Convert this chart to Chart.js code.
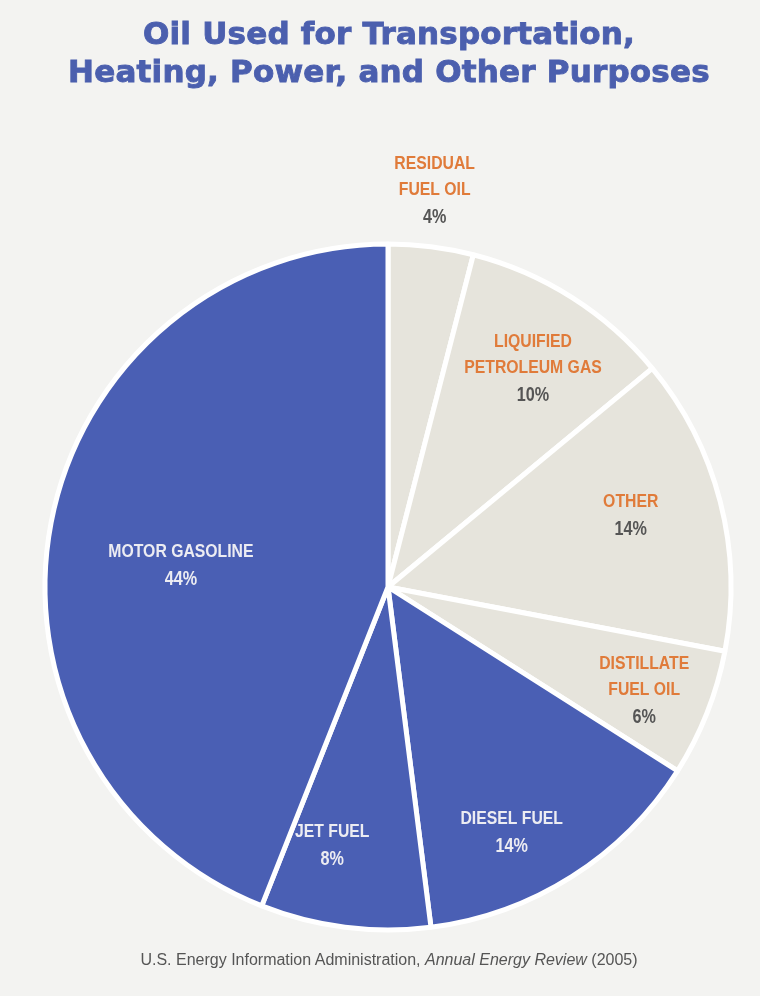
<!DOCTYPE html>
<html>
<head>
<meta charset="utf-8">
<script src="https://cdn.jsdelivr.net/npm/chart.js@4.4.1/dist/chart.umd.min.js"></script>
<style>
  html, body { margin: 0; padding: 0; background: #f3f3f1; }
  body { width: 760px; height: 996px; position: relative; overflow: hidden; }
  #wrap { position: absolute; left: 0; top: 0; width: 760px; height: 996px; }
  #title { position: absolute; left: 0; top: 14px; width: 778px; text-align: center;
    font-family: "DejaVu Sans", sans-serif; font-weight: bold; font-size: 31px; line-height: 38px;
    color: #4b5fae; -webkit-text-stroke: 0.9px #4b5fae; letter-spacing: 0.2px; z-index: 2; }
  #source { position: absolute; left: 0; top: 951px; width: 778px; text-align: center;
    font-family: "Liberation Sans", Arial, sans-serif; font-size: 16px; color: #555; z-index: 2; }
</style>
</head>
<body>
<div id="wrap"><canvas id="c"></canvas></div>
<div id="title">Oil Used for Transportation,<br>Heating, Power, and Other Purposes</div>
<div id="source">U.S. Energy Information Administration, <i>Annual Energy Review</i> (2005)</div>
<script>
// ---- data ----
const categories = ["RESIDUAL FUEL OIL", "LIQUIFIED PETROLEUM GAS", "OTHER", "DISTILLATE FUEL OIL", "DIESEL FUEL", "JET FUEL", "MOTOR GASOLINE"];
const labelLines = [["RESIDUAL", "FUEL OIL"], ["LIQUIFIED", "PETROLEUM GAS"], ["OTHER"], ["DISTILLATE", "FUEL OIL"], ["DIESEL FUEL"], ["JET FUEL"], ["MOTOR GASOLINE"]];
const shares = [4, 10, 14, 6, 14, 8, 44];

// ---- styles / label placement (not data) ----
const BLUE = "#4a5fb4", BEIGE = "#e6e4dc";
const sliceColors = [BEIGE, BEIGE, BEIGE, BEIGE, BLUE, BLUE, BLUE];
const nameColors = ["#e07b3a", "#e07b3a", "#e07b3a", "#e07b3a", "#ececf2", "#ececf2", "#ececf2"];
const pctColors = ["#555555", "#555555", "#555555", "#555555", "#ececf2", "#ececf2", "#ececf2"];
const labelRadius = [1.166, 0.766, 0.738, 0.805, 0.80, 0.77, 0.607];
const labelAngleShift = [-0.5, 1.1, -2.1, 0.3, 5.6, 5.0, -4.8];
const SQUEEZE = 0.83;

const labelPlugin = {
  id: "sliceLabels",
  afterDatasetsDraw(chart) {
    const ctx = chart.ctx;
    const meta = chart.getDatasetMeta(0);
    meta.data.forEach((arc, i) => {
      const p = arc.getProps(["x", "y", "startAngle", "endAngle", "outerRadius"], true);
      const mid = (p.startAngle + p.endAngle) / 2 + labelAngleShift[i] * Math.PI / 180;
      const r = p.outerRadius * labelRadius[i];
      const cx = p.x + Math.cos(mid) * r;
      const cy = p.y + Math.sin(mid) * r;
      const lines = labelLines[i];
      const lh = 26.5;
      const total = lines.length + 1;
      let y = cy - (total - 1) * lh / 2;
      ctx.save();
      ctx.translate(cx, 0);
      ctx.scale(SQUEEZE, 1);
      ctx.textAlign = "center";
      ctx.textBaseline = "middle";
      ctx.font = 'bold 19px "Liberation Sans", Arial, sans-serif';
      ctx.fillStyle = nameColors[i];
      lines.forEach(t => { ctx.fillText(t, 0, y); y += lh; });
      ctx.font = 'bold 19.5px "Liberation Sans", Arial, sans-serif';
      ctx.fillStyle = pctColors[i];
      ctx.fillText(shares[i] + "%", 0, y + 1);
      ctx.restore();
    });
  }
};

new Chart(document.getElementById("c"), {
  type: "pie",
  data: {
    labels: categories,
    datasets: [{
      data: shares,
      backgroundColor: sliceColors,
      borderColor: "#ffffff",
      borderWidth: 5,
      hoverOffset: 0
    }]
  },
  options: {
    responsive: true,
    maintainAspectRatio: false,
    animation: false,
    radius: 343,
    layout: { padding: { left: 16, right: 0, top: 178, bottom: 0 } },
    plugins: { legend: { display: false }, tooltip: { enabled: false }, title: { display: false } }
  },
  plugins: [labelPlugin]
});
</script>
</body>
</html>
